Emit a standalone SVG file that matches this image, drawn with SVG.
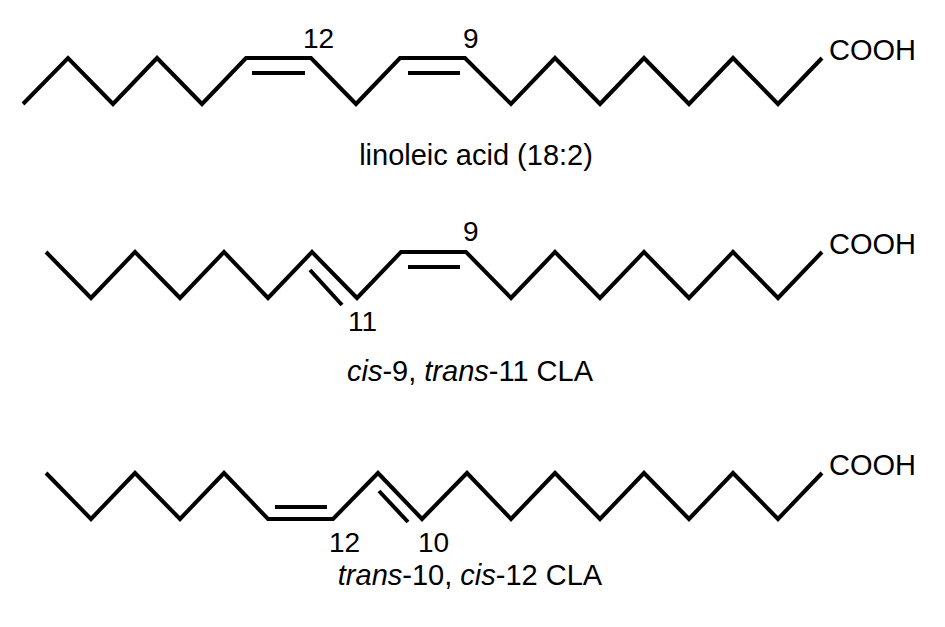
<svg xmlns="http://www.w3.org/2000/svg" width="945" height="627" viewBox="0 0 945 627">
<style>
.b{fill:none;stroke:#000;stroke-width:4;stroke-linejoin:miter;stroke-linecap:butt}
text{font-family:"Liberation Sans",Arial,sans-serif;font-size:29px;fill:#000}
.n{font-size:28px}
.t{text-anchor:middle}
</style>
<rect width="945" height="627" fill="#fff"/>
<g id="linoleic">
<polyline class="b" points="23,104 68,58 113,104 157,58 202,104 246,58 311,58 356,104 400,58 465,58 511,104 555,58 600,104 644,58 689,104 733,58 778,104 822,58"/>
<line class="b" x1="252" y1="73" x2="305" y2="73"/>
<line class="b" x1="408" y1="73" x2="460" y2="73"/>
<text class="n" x="303" y="48">12</text>
<text class="n" x="463" y="48">9</text>
<text x="829" y="60">COOH</text>
<text class="t" x="476" y="165">linoleic acid (18:2)</text>
</g>
<g id="cla1">
<polyline class="b" points="46,252 91,298 135,252 180,298 224,252 268,298 312,252 357,298 401,252 466,252 511,298 555,252 600,298 644,252 689,298 733,252 778,298 822,252"/>
<line class="b" x1="310" y1="270" x2="342" y2="305"/>
<line class="b" x1="408" y1="267" x2="460" y2="267"/>
<text class="n" x="463" y="241">9</text>
<text class="n" x="348" y="331">11</text>
<text x="829" y="254">COOH</text>
<text class="t" x="470" y="381"><tspan font-style="italic">cis</tspan>-9, <tspan font-style="italic">trans</tspan>-11 CLA</text>
</g>
<g id="cla2">
<polyline class="b" points="46,473 91,519 135,473 180,519 224,473 268,519 333,519 378,473 422,519 467,473 511,519 555,473 600,519 644,473 689,519 733,473 778,519 822,473"/>
<line class="b" x1="275" y1="507" x2="327" y2="507"/>
<line class="b" x1="379" y1="491" x2="408" y2="522"/>
<text class="n" x="329" y="552">12</text>
<text class="n" x="418" y="552">10</text>
<text x="829" y="475">COOH</text>
<text class="t" x="470" y="585"><tspan font-style="italic">trans</tspan>-10, <tspan font-style="italic">cis</tspan>-12 CLA</text>
</g>
</svg>
